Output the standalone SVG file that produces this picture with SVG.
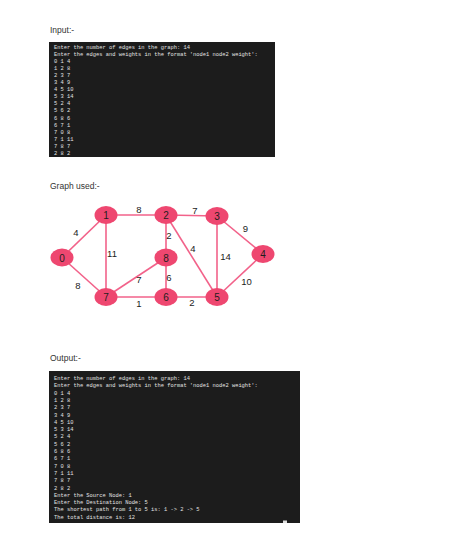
<svg xmlns="http://www.w3.org/2000/svg" width="454" height="552" viewBox="0 0 454 552">
<style>
.h{font-family:"Liberation Sans",Arial,sans-serif;font-size:8.5px;fill:#333}
.term{fill:#1c1c1c}
.t{font-family:"Liberation Mono","DejaVu Sans Mono",monospace;font-size:5.4px;fill:#e2e2e2}
.e{stroke:#f2628a;stroke-width:1.6;fill:none}
.n{fill:#ee4770}
.nl{font-family:"Liberation Sans",Arial,sans-serif;font-size:10px;fill:#1e1e1e;text-anchor:middle;dominant-baseline:central}
.wl{font-family:"Liberation Sans",Arial,sans-serif;font-size:9.5px;fill:#222;text-anchor:middle;dominant-baseline:central}
</style>
<rect width="454" height="552" fill="#ffffff"/>
<text class="h" x="50" y="33">Input:-</text>
<g id="input-terminal">
<rect class="term" x="49" y="42" width="226" height="115"/>
<text class="t" x="54" y="48.5">Enter the number of edges in the graph: 14</text>
<text class="t" x="54" y="55.6">Enter the edges and weights in the format 'node1 node2 weight':</text>
<text class="t" x="54" y="62.7">0 1 4</text>
<text class="t" x="54" y="69.8">1 2 8</text>
<text class="t" x="54" y="76.9">2 3 7</text>
<text class="t" x="54" y="84">3 4 9</text>
<text class="t" x="54" y="91.1">4 5 10</text>
<text class="t" x="54" y="98.2">5 3 14</text>
<text class="t" x="54" y="105.3">5 2 4</text>
<text class="t" x="54" y="112.4">5 6 2</text>
<text class="t" x="54" y="119.5">6 8 6</text>
<text class="t" x="54" y="126.6">6 7 1</text>
<text class="t" x="54" y="133.7">7 0 8</text>
<text class="t" x="54" y="140.8">7 1 11</text>
<text class="t" x="54" y="147.9">7 8 7</text>
<text class="t" x="54" y="155">2 8 2</text>
</g>
<text class="h" x="50" y="189">Graph used:-</text>
<g id="connectors">
<line class="e" x1="62" y1="257.5" x2="106" y2="215"/>
<line class="e" x1="106" y1="215" x2="166" y2="215"/>
<line class="e" x1="166" y1="215" x2="217" y2="216"/>
<line class="e" x1="217" y1="216" x2="263" y2="254"/>
<line class="e" x1="263" y1="254" x2="217" y2="297"/>
<line class="e" x1="217" y1="297" x2="217" y2="216"/>
<line class="e" x1="217" y1="297" x2="166" y2="215"/>
<line class="e" x1="217" y1="297" x2="166" y2="297"/>
<line class="e" x1="166" y1="297" x2="166" y2="257.5"/>
<line class="e" x1="166" y1="297" x2="106" y2="297"/>
<line class="e" x1="106" y1="297" x2="62" y2="257.5"/>
<line class="e" x1="106" y1="297" x2="106" y2="215"/>
<line class="e" x1="106" y1="297" x2="166" y2="257.5"/>
<line class="e" x1="166" y1="215" x2="166" y2="257.5"/>
<text class="wl" x="139" y="209">8</text>
<text class="wl" x="195" y="210">7</text>
<text class="wl" x="76" y="232">4</text>
<text class="wl" x="245.5" y="228">9</text>
<text class="wl" x="112" y="253">11</text>
<text class="wl" x="169" y="235">2</text>
<text class="wl" x="193" y="248">4</text>
<text class="wl" x="225.5" y="256">14</text>
<text class="wl" x="139" y="279">7</text>
<text class="wl" x="169" y="277">6</text>
<text class="wl" x="78" y="285">8</text>
<text class="wl" x="246.5" y="281">10</text>
<text class="wl" x="139" y="303">1</text>
<text class="wl" x="192" y="302.5">2</text>
</g>
<g id="node0"><ellipse class="n" cx="62" cy="257.5" rx="11.5" ry="9"/><text class="nl" x="62" y="258">0</text></g>
<g id="node1"><ellipse class="n" cx="106" cy="215" rx="11.5" ry="9"/><text class="nl" x="106" y="215.5">1</text></g>
<g id="node2"><ellipse class="n" cx="166" cy="215" rx="11.5" ry="9"/><text class="nl" x="166" y="215.5">2</text></g>
<g id="node3"><ellipse class="n" cx="217" cy="216" rx="11.5" ry="9"/><text class="nl" x="217" y="216.5">3</text></g>
<g id="node4"><ellipse class="n" cx="263" cy="254" rx="11.5" ry="9"/><text class="nl" x="263" y="254.5">4</text></g>
<g id="node5"><ellipse class="n" cx="217" cy="297" rx="11.5" ry="9"/><text class="nl" x="217" y="297.5">5</text></g>
<g id="node6"><ellipse class="n" cx="166" cy="297" rx="11.5" ry="9"/><text class="nl" x="166" y="297.5">6</text></g>
<g id="node7"><ellipse class="n" cx="106" cy="297" rx="11.5" ry="9"/><text class="nl" x="106" y="297.5">7</text></g>
<g id="node8"><ellipse class="n" cx="166" cy="257.5" rx="11.5" ry="9"/><text class="nl" x="166" y="258">8</text></g>
<text class="h" x="50" y="361">Output:-</text>
<g id="output-terminal">
<rect class="term" x="49" y="371" width="251" height="152"/>
<text class="t" x="54" y="380">Enter the number of edges in the graph: 14</text>
<text class="t" x="54" y="387.3">Enter the edges and weights in the format 'node1 node2 weight':</text>
<text class="t" x="54" y="394.6">0 1 4</text>
<text class="t" x="54" y="401.9">1 2 8</text>
<text class="t" x="54" y="409.2">2 3 7</text>
<text class="t" x="54" y="416.5">3 4 9</text>
<text class="t" x="54" y="423.8">4 5 10</text>
<text class="t" x="54" y="431.1">5 3 14</text>
<text class="t" x="54" y="438.4">5 2 4</text>
<text class="t" x="54" y="445.7">5 6 2</text>
<text class="t" x="54" y="453">6 8 6</text>
<text class="t" x="54" y="460.3">6 7 1</text>
<text class="t" x="54" y="467.6">7 0 8</text>
<text class="t" x="54" y="474.9">7 1 11</text>
<text class="t" x="54" y="482.2">7 8 7</text>
<text class="t" x="54" y="489.5">2 8 2</text>
<text class="t" x="54" y="496.8">Enter the Source Node: 1</text>
<text class="t" x="54" y="504.1">Enter the Destination Node: 5</text>
<text class="t" x="54" y="511.4">The shortest path from 1 to 5 is: 1 -&gt; 2 -&gt; 5</text>
<text class="t" x="54" y="518.7">The total distance is: 12</text>
<rect x="283" y="520.5" width="4" height="2.5" fill="#e0e0e0"/>
</g>
</svg>
